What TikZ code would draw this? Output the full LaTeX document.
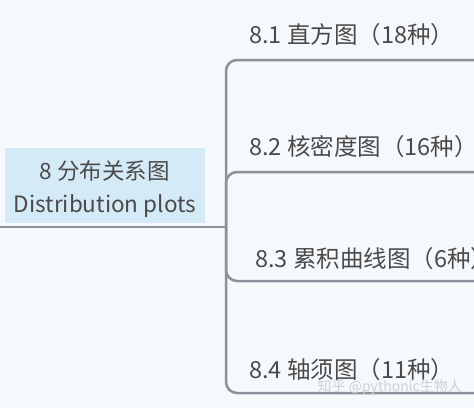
\documentclass[tikz,border=0pt]{standalone}
\usepackage{fontspec}
\setmainfont{Noto Sans CJK SC}
\usetikzlibrary{positioning}
\usepackage{xcolor}
\definecolor{paper}{HTML}{F6F9FC}
\definecolor{rootfill}{HTML}{D5EAF7}
\definecolor{branch}{HTML}{8C919B}
\definecolor{ink}{HTML}{4A4A4A}
\definecolor{mark}{HTML}{CDD1D6}

\begin{document}
\begin{tikzpicture}[x=1pt, y=-1pt, root/.style = {fill=rootfill, text=ink, align=center, minimum width=200pt, minimum height=75pt, inner sep=0pt, font=\fontsize{22.5}{33}\selectfont}, leaf/.style = {text=ink, anchor=west, inner sep=0pt, font=\fontsize{23.5}{27}\selectfont}, link/.style = {draw=branch, line width=2.5pt, rounded corners=11pt}] 
\fill[paper] (0,0) rectangle (474,408);
\useasboundingbox (0,0) rectangle (474,408);
\node[root] (root) at (105,185.5) {}; 
\node[text=ink, align=center, inner sep=0pt, font=\fontsize{22.5}{33}\selectfont] (rootlabel) at (105,189) {8 分布关系图\\Distribution plots}; 
\coordinate (in) at (0,227);
\coordinate (hub) at (226,227);
\node[leaf] (hist) at (249,35) {8.1 直方图（18种）}; 
\node[leaf] (kde) at (249,147) {8.2 核密度图（16种）}; 
\node[leaf] (ecdf) at (255,259) {8.3 累积曲线图（6种）}; 
\node[leaf] (rug) at (249,370) {8.4 轴须图（11种）}; 
\coordinate (e1) at (474,60);
\coordinate (e2) at (474,172);
\coordinate (e3) at (474,281);
\coordinate (e4) at (474,393);
\draw[link] (in) -- (hub);
\draw[link] (hub) |- (e1);
\draw[link] (hub) |- (e2);
\draw[link] (hub) |- (e3);
\draw[link] (hub) |- (e4);
\node[text=mark, anchor=east, inner sep=0pt, font=\fontsize{14}{16}\selectfont] (wm) at (462,387) {知乎 @pythonic生物人};
\end{tikzpicture}
\end{document}
